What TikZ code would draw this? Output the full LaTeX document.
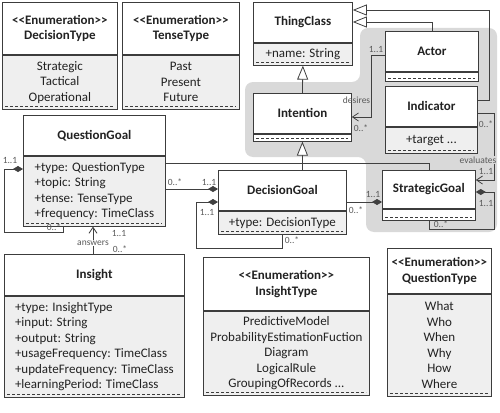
\documentclass[tikz,border=0pt]{standalone}
\usepackage{fontspec}
\setmainfont{Carlito}
\usetikzlibrary{arrows.meta,positioning,calc}

\definecolor{linec}{HTML}{404040}
\definecolor{boxc}{HTML}{3C3C3C}
\definecolor{compc}{HTML}{EFEFEF}
\definecolor{regionc}{HTML}{D9D9D9}
\definecolor{labelc}{HTML}{5A5A5A}
\definecolor{textc}{HTML}{222222}

\newcommand{\stereo}[1]{<\kern0pt<#1>\kern0pt>}

\tikzset{
  head/.style={draw=boxc, fill=white, line width=0.8pt, inner sep=0pt, align=center,
    font=\fontsize{13}{15.5}\selectfont\bfseries, text=textc, anchor=north west},
  attr/.style={draw=boxc, fill=compc, line width=0.8pt, inner sep=0pt, align=#1,
    font=\fontsize{13}{15.5}\selectfont, text=textc, anchor=north,
    path picture={\draw[boxc, densely dashed, line width=0.5pt]
      ([xshift=3pt,yshift=3pt]path picture bounding box.south west) --
      ([xshift=-3pt,yshift=3pt]path picture bounding box.south east);}},
  attr/.default=center,
  opsbox/.style={attr, fill=white},
  conn/.style={draw=linec, line width=0.8pt},
  gen/.style={conn, -{Triangle[length=14pt, width=11pt, fill=white]}},
  comp/.style={conn, -{Diamond[length=10pt, width=6pt]}},
  nav/.style={conn, -{Straight Barb[length=6pt, width=8pt]}},
  mult/.style={font=\fontsize{9.5}{11}\selectfont, text=labelc, inner sep=0.6pt},
  role/.style={mult, fill=#1},
  role/.default=white,
}

\begin{document}
\begin{tikzpicture}[x=1pt, y=-1pt]
\useasboundingbox (0,0) rectangle (500,412);

% shaded area behind the goal classes
\fill[regionc, rounded corners=8] (360,28) -- (497,28) -- (497,232) -- (366,232)
  -- (366,157) -- (245,157) -- (245,82) -- (360,82) -- cycle;

% enumerations on top
\node[head, minimum width=115, minimum height=52] (dt) at (2,2) {\stereo{Enumeration}\\DecisionType};
\node[attr, minimum width=115, minimum height=54] (dt-a) at (dt.south) {Strategic\\Tactical\\Operational};
\node[head, minimum width=117, minimum height=52] (tt) at (122,2) {\stereo{Enumeration}\\TenseType};
\node[attr, minimum width=117, minimum height=54] (tt-a) at (tt.south) {Past\\Present\\Future};

% ThingClass and its children
\node[head, minimum width=99, minimum height=40] (tc) at (253,2) {ThingClass};
\node[attr=left, minimum width=99, minimum height=22] (tc-a) at (tc.south) {+name: String};
\node[head, minimum width=93, minimum height=40] (ac) at (385,31) {Actor};
\node[opsbox, minimum width=93, minimum height=9] (ac-a) at (ac.south) {};
\node[head, minimum width=92, minimum height=40] (in) at (385,86) {Indicator};
\node[attr=left, minimum width=92, minimum height=26] (in-a) at (in.south) {+target ...};
\node[head, minimum width=98, minimum height=40] (it) at (253,93) {Intention};
\node[opsbox, minimum width=98, minimum height=7] (it-a) at (it.south) {};

% goals
\node[head, minimum width=142, minimum height=40] (qg) at (23,115) {QuestionGoal};
\node[attr=left, minimum width=142, minimum height=70] (qg-a) at (qg.south)
  {+type: QuestionType\\+topic: String\\+tense: TenseType\\+frequency: TimeClass};
\node[head, minimum width=128, minimum height=40] (dg) at (218,170) {DecisionGoal};
\node[attr=left, minimum width=128, minimum height=23] (dg-a) at (dg.south) {+type: DecisionType};
\node[head, minimum width=93, minimum height=38] (sg) at (382,170) {StrategicGoal};
\node[opsbox, minimum width=93, minimum height=11] (sg-a) at (sg.south) {};

% bottom row
\node[head, minimum width=180, minimum height=41] (is) at (4,254) {Insight};
\node[attr=left, minimum width=180, minimum height=101] (is-a) at (is.south)
  {+type: InsightType\\+input: String\\+output: String\\+usageFrequency: TimeClass\\+updateFrequency: TimeClass\\+learningPeriod: TimeClass};
\node[head, minimum width=166, minimum height=53] (ity) at (203,257) {\stereo{Enumeration}\\InsightType};
\node[attr, minimum width=166, minimum height=84] (ity-a) at (ity.south)
  {PredictiveModel\\ProbabilityEstimationFuction\\Diagram\\LogicalRule\\GroupingOfRecords ...};
\node[head, minimum width=104, minimum height=45] (qt) at (387,248) {\stereo{Enumeration}\\QuestionType};
\node[attr, minimum width=104, minimum height=102] (qt-a) at (qt.south)
  {What\\Who\\When\\Why\\How\\Where};

% generalizations
\draw[gen] (it.north) -- (tc-a.south);
\draw[gen] (ac.north) |- (tc.east |- 0,22);
\draw[gen] (in.east |- 0,100) -- ++(12,0) |- (tc.east |- 0,10);
\draw[conn] (qg-a.east |- 0,163) -- (it.south |- 0,163);
\draw[conn] (sg.north) |- (it.south |- 0,163);
\draw[gen] (it.south |- dg.north) -- (it-a.south);

% associations
\draw[comp] (qg-a.east |- 0,189) -- (dg.west |- 0,189);
\node[mult] (m1) at (175,182) {0..*};
\node[mult] (m2) at (209,182) {1..1};

\draw[comp] (dg-a.south) -- ++(0,14) -- ++(-86,0) |- (dg.west |- 0,202);
\node[mult] (m3) at (207,212) {1..1};
\node[mult] (m4) at (292,240) {0..*};

\draw[comp] (qg-a.south -| 63,0) -- ++(0,6) -- ++(-59,0) |- (qg-a.west |- 0,169);
\node[mult] (m5) at (10,160) {1..1};
\node[mult] (m6) at (54,227) {0..*};

\draw[nav] (is.north -| 93,0) -- (qg-a.south -| 93,0);
\node[role] (answers) at (93,243) {answers};
\node[mult] (m7) at (119,233) {1..1};
\node[mult] (m8) at (120,249) {0..*};

\draw[nav] (ac.west |- 0,55) -- ++(-14,0) |- (it.east |- 0,117);
\node[mult] (m9) at (376,49) {1..1};
\node[mult, anchor=east] (desires) at (371,100) {desires};
\node[mult] (m10) at (361,128) {0..*};

\draw[nav] (in.east |- 0,113) -- ++(17,0) |- (sg.east |- 0,180);
\node[mult] (m11) at (486,124) {0..*};
\node[role=regionc] (evaluates) at (478,160) {evaluates};
\node[mult] (m12) at (486,171) {1..1};

\draw[comp] (sg-a.south) -- ++(0,9) -- ++(65,0) |- (sg.east |- 0,192);
\node[mult] (m13) at (486,203) {1..1};
\node[mult] (m14) at (441,224) {0..*};

\draw[comp] (dg.east |- 0,202) -- (sg.west |- 0,202);
\node[mult] (m15) at (356,210) {0..*};
\node[mult] (m16) at (373,194) {1..1};
\end{tikzpicture}
\end{document}
